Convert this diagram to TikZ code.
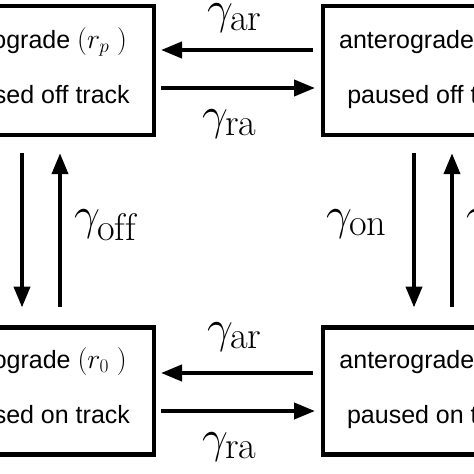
\documentclass[tikz,border=0pt]{standalone}
\usepackage{graphicx}
\usepackage{fontspec}
\newfontfamily\boxfont{Liberation Sans}
\usetikzlibrary{arrows.meta}
\newcommand{\bigmath}[1]{\scalebox{1.12}{$#1$}}
\newcommand{\lowstrut}{\rule[-11pt]{0pt}{0pt}}
\begin{document}
\begin{tikzpicture}[x=1pt,y=-1pt,
  state/.style={draw, line width=4.2pt, outer sep=0pt, inner sep=0pt,
    minimum width=226pt, align=center,
    font={\boxfont\fontsize{25}{55}\selectfont}},
  arr/.style={line width=4pt, -{Triangle[length=21pt,width=16pt]}},
  rate/.style={inner sep=0pt, outer sep=0pt, anchor=base west, scale=1.85, font=\Huge}
]
\useasboundingbox (0,0) rectangle (474,474);
\clip (0,0) rectangle (474,474);

% boxes
\node[state, minimum height=129pt] (TL) at (41,70.7)
  {retrograde \bigmath{(r_p\;)}\\paused off track\lowstrut};
\node[state, minimum height=129pt] (TR) at (436,70.7)
  {anterograde \bigmath{(a_p\;)}\\paused off track\lowstrut};
\node[state, minimum height=127pt] (BL) at (41,391)
  {retrograde \bigmath{(r_0\;)}\\paused on track\lowstrut};
\node[state, minimum height=127pt] (BR) at (436,391)
  {anterograde \bigmath{(a_0\;)}\\paused on track\lowstrut};

% horizontal connectors
\draw[arr, shorten <=10pt, shorten >=7pt] (TR.west |- 0,50) -- (TL.east |- 0,50);
\draw[arr, shorten <=7pt, shorten >=8pt] (TL.east |- 0,88) -- (TR.west |- 0,88);
\draw[arr, shorten <=10pt, shorten >=7pt] (BR.west |- 0,373) -- (BL.east |- 0,373);
\draw[arr, shorten <=7pt, shorten >=8pt] (BL.east |- 0,411) -- (BR.west |- 0,411);

% vertical connectors
\draw[arr, shorten <=18pt, shorten >=20pt] (22,0 |- TL.south) -- (22,0 |- BL.north);
\draw[arr, shorten <=21pt, shorten >=18pt] (60,0 |- BL.north) -- (60,0 |- TL.south);
\draw[arr, shorten <=18pt, shorten >=20pt] (414,0 |- TR.south) -- (414,0 |- BR.north);
\draw[arr, shorten <=21pt, shorten >=18pt] (452,0 |- BR.north) -- (452,0 |- TR.south);

% rate labels
\node[rate] (l1) at (207,23.5) {$\gamma_{\mathrm{ar}}$};
\node[rate] (l2) at (202,129) {$\gamma_{\mathrm{ra}}$};
\node[rate] (l3) at (207,342) {$\gamma_{\mathrm{ar}}$};
\node[rate] (l4) at (202,452) {$\gamma_{\mathrm{ra}}$};
\node[rate] (l5) at (74,229) {$\gamma_{\mathrm{off}}$};
\node[rate] (l6) at (326,229) {$\gamma_{\mathrm{on}}$};
\node[rate] (l7) at (-62,229) {$\gamma_{\mathrm{on}}$};
\node[rate] (l8) at (466,229) {$\gamma_{\mathrm{off}}$};
\end{tikzpicture}
\end{document}
